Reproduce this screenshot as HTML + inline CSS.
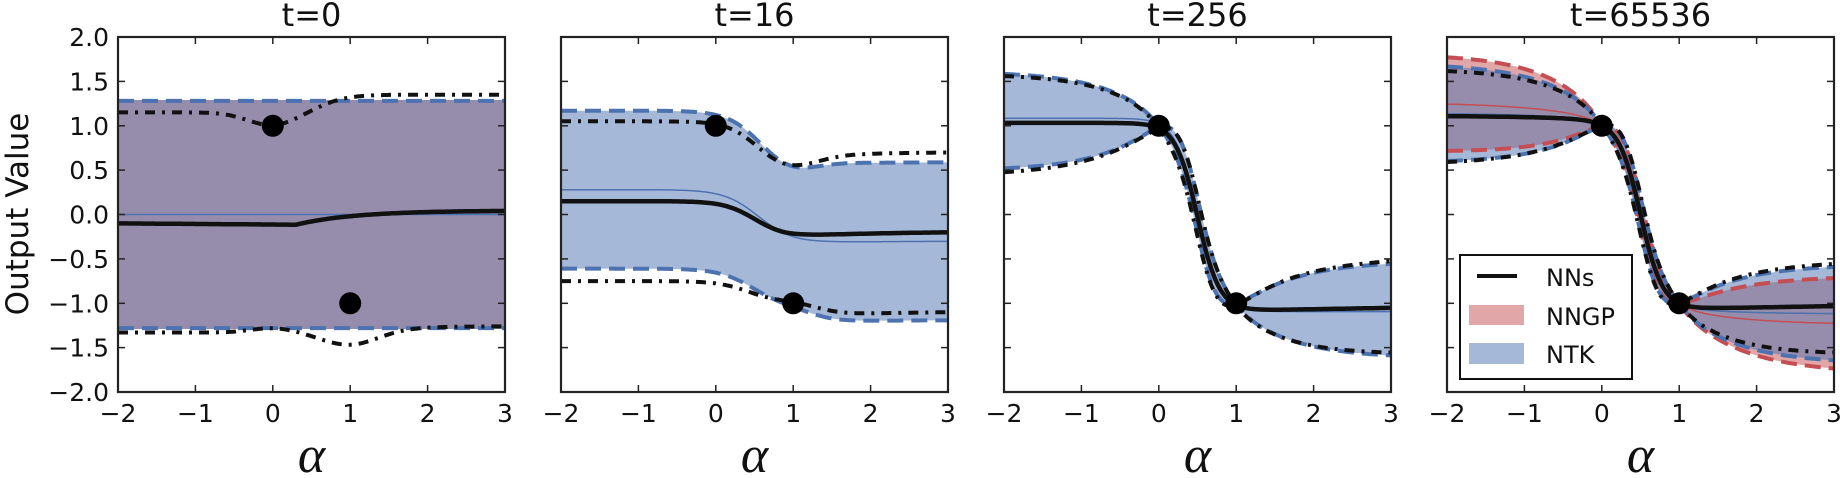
<!DOCTYPE html>
<html><head><meta charset="utf-8"><style>
html,body{margin:0;padding:0;background:#fff;width:1840px;height:478px;overflow:hidden}
svg text{font-family:"DejaVu Sans","Liberation Sans",sans-serif;fill:#111}
</style></head><body>
<svg id="s" width="1840" height="478" xmlns="http://www.w3.org/2000/svg"></svg>
<script>
const S=document.getElementById('s');
const LEFTS=[118,561,1004,1447], W=387, TOP=37, BOT=392;
const BLUE='#4c72b0', RED='#c44e52';
let out='';
function st(x,k,c){return 1/(1+Math.exp(-(x-c)*k));}
function step(x,k,c){c=c===undefined?0.5:c;const a=st(0,k,c),b=st(1,k,c);return (st(x,k,c)-a)/(b-a);}
function wpin(x,wl,wr,wm,kl,kr){
  if(x<0) return wl*(1-Math.exp(x*kl));
  if(x>1) return wr*(1-Math.exp(-(x-1)*kr));
  return wm*Math.sin(Math.PI*x);
}
const xs=[];for(let i=0;i<=250;i++)xs.push(-2+5*i/250);
function P(L,x,y){return [(L+(x+2)*77.4).toFixed(1),(214.5-y*88.75).toFixed(1)];}
function line(L,f,stroke,sw,dash){
  let d=xs.map((x,i)=>{const p=P(L,x,f(x));return (i?'L':'M')+p[0]+' '+p[1];}).join('');
  out+=`<path d="${d}" fill="none" stroke="${stroke}" stroke-width="${sw}" ${dash?`stroke-dasharray="${dash}"`:''} stroke-linejoin="round"/>`;
}
function band(L,fu,fl,fill,op){
  let d=xs.map((x,i)=>{const p=P(L,x,fu(x));return (i?'L':'M')+p[0]+' '+p[1];}).join('');
  d+=xs.slice().reverse().map(x=>{const p=P(L,x,fl(x));return 'L'+p[0]+' '+p[1];}).join('')+'Z';
  out+=`<path d="${d}" fill="${fill}" fill-opacity="${op}" stroke="none"/>`;
}
const DASH='16 8', DD='10 7 3 7';
function dot(L,x,y){const p=P(L,x,y);out+=`<circle cx="${p[0]}" cy="${p[1]}" r="11" fill="#000"/>`;}

LEFTS.forEach((L,i)=>{out+=`<clipPath id="c${i}"><rect x="${L}" y="${TOP}" width="${W}" height="${BOT-TOP}"/></clipPath>`;});

// Panel 1
{const L=LEFTS[0];out+=`<g clip-path="url(#c0)">`;
 band(L,x=>1.29,x=>-1.29,RED,0.5);band(L,x=>1.29,x=>-1.29,BLUE,0.5);
 line(L,x=>1.28,BLUE,4,DASH);line(L,x=>-1.28,BLUE,4,DASH);
 line(L,x=>0,BLUE,1.5);
 line(L,x=>{return 1.15-0.15*Math.exp(-Math.pow(x/0.45,2))+0.2*st(x,5,0.65);},'#111',4,DD);
 line(L,x=>{return -1.33+0.05*Math.exp(-Math.pow(x/0.4,2))-0.15*Math.exp(-Math.pow((x-1)/0.5,2))+0.07*st(x,3,1.5);},'#111',4,DD);
 line(L,x=>x<0.3?-0.1-0.015*(x+2)/2.3:-0.115+0.16*(1-Math.exp(-(x-0.3)*1.3)),'#111',4.5);
 out+='</g>';dot(L,0,1);dot(L,1,-1);}

// Panel 2
{const L=LEFTS[1];out+=`<g clip-path="url(#c1)">`;
 const m=x=>0.28-0.6*st(x,4.5,0.55)+0.02*(x>1?(1-Math.exp(-(x-1))):0);
 const w=x=>0.89-0.1*Math.exp(-Math.pow((x-0.95)/0.45,2));
 band(L,x=>m(x)+w(x),x=>m(x)-w(x),BLUE,0.5);
 line(L,x=>m(x)+w(x),BLUE,4,DASH);line(L,x=>m(x)-w(x),BLUE,4,DASH);
 line(L,m,BLUE,1.5);
 const n=x=>0.15-0.4*st(x,5,0.5)+0.06*(x>0.9?(1-Math.exp(-(x-0.9)*0.8)):0);
 const wn=x=>0.9-0.13*Math.exp(-Math.pow((x-0.95)/0.5,2));
 line(L,n,'#111',4.5);
 line(L,x=>n(x)+wn(x),'#111',4,DD);line(L,x=>n(x)-wn(x),'#111',4,DD);
 out+='</g>';dot(L,0,1);dot(L,1,-1);}

const K=7;
// Panel 3
{const L=LEFTS[2];out+=`<g clip-path="url(#c2)">`;
 const m=x=>0.99-2.0*step(x,K);
 const w=x=>wpin(x,0.56,0.55,0.2,1.5,1.4);
 band(L,x=>m(x)+w(x),x=>m(x)-w(x),BLUE,0.5);
 line(L,x=>m(x)+w(x),BLUE,4,DASH);line(L,x=>m(x)-w(x),BLUE,4,DASH);
 line(L,x=>1.02-2.05*step(x,K),BLUE,1.5);
 const n=x=>0.97-1.99*step(x,K)+(x>1?0.03*(x-1)/2:0);
 line(L,n,'#111',4.5);
 line(L,x=>n(x)+wpin(x,0.55,0.56,0.22,1.6,1.4),'#111',4,DD);
 line(L,x=>n(x)-wpin(x,0.6,0.53,0.22,1.3,1.5),'#111',4,DD);
 out+='</g>';dot(L,0,1);dot(L,1,-1);}

// Panel 4
{const L=LEFTS[3];out+=`<g clip-path="url(#c3)">`;
 const g=x=>1.0-2.0*step(x,K)+(x<0?0.2*(1-Math.exp(x*1.2)):0)-(x>1?0.18*(1-Math.exp(-(x-1)*1.2)):0);
 const gw=x=>wpin(x,0.55,0.55,0.17,1.6,1.3);
 const t=x=>1.0-2.0*step(x,K)+(x<0?0.08*(1-Math.exp(x*1.2)):0)-(x>1?0.06*(1-Math.exp(-(x-1)*1.2)):0);
 const tw=x=>wpin(x,0.56,0.56,0.2,1.5,1.4);
 band(L,x=>g(x)+gw(x),x=>g(x)-gw(x),RED,0.5);
 band(L,x=>t(x)+tw(x),x=>t(x)-tw(x),BLUE,0.5);
 line(L,x=>g(x)+gw(x),RED,4,DASH);line(L,x=>g(x)-gw(x),RED,4,DASH);
 line(L,x=>t(x)+tw(x),BLUE,4,DASH);line(L,x=>t(x)-tw(x),BLUE,4,DASH);
 line(L,g,RED,1.5);line(L,t,BLUE,1.5);
 const n=x=>1.0-2.0*step(x,K)+(x<0?0.05*(1-Math.exp(x*1.2)):0)+(x>1?0.03*(x-1)/2:0);
 line(L,n,'#111',4.5);
 line(L,x=>n(x)+wpin(x,0.53,0.5,0.22,1.6,1.5),'#111',4,DD);
 line(L,x=>n(x)-wpin(x,0.55,0.55,0.22,1.4,1.5),'#111',4,DD);
 out+='</g>';dot(L,0,1);dot(L,1,-1);}

const titles=['t=0','t=16','t=256','t=65536'];
LEFTS.forEach((L,i)=>{
  out+=`<rect x="${L}" y="${TOP}" width="${W}" height="${BOT-TOP}" fill="none" stroke="#222" stroke-width="2.2"/>`;
  for(let k=-2;k<=3;k++){const x=(L+(k+2)*77.4).toFixed(1);
    out+=`<line x1="${x}" y1="${TOP}" x2="${x}" y2="${TOP+7}" stroke="#222" stroke-width="1.5"/><line x1="${x}" y1="${BOT}" x2="${x}" y2="${BOT-7}" stroke="#222" stroke-width="1.5"/>`;
    out+=`<text x="${x}" y="422" font-size="25" text-anchor="middle">${k<0?'\u2212'+(-k):k}</text>`;}
  for(let k=-4;k<=4;k++){const y=(214.5-k*0.5*88.75).toFixed(1);
    out+=`<line x1="${L}" y1="${y}" x2="${L+7}" y2="${y}" stroke="#222" stroke-width="1.5"/><line x1="${L+W}" y1="${y}" x2="${L+W-7}" y2="${y}" stroke="#222" stroke-width="1.5"/>`;
    if(i==0){const v=(k*0.5).toFixed(1);out+=`<text x="109" y="${(+y+9).toFixed(1)}" font-size="25" text-anchor="end">${k<0?'\u2212'+v.slice(1):v}</text>`;}}
  out+=`<text x="${L+W/2}" y="26" font-size="32" text-anchor="middle">${titles[i]}</text>`;
  out+=`<text x="${L+W/2}" y="472" font-size="52" font-style="italic" text-anchor="middle" style="font-family:'Liberation Serif',serif">α</text>`;
});
out+=`<text transform="translate(28,214) rotate(-90)" font-size="31" text-anchor="middle">Output Value</text>`;
out+=`<rect x="1460" y="255" width="172" height="124" fill="#fff" stroke="#111" stroke-width="2"/>`;
out+=`<line x1="1477" y1="276" x2="1517" y2="276" stroke="#111" stroke-width="4"/>`;
out+=`<rect x="1469" y="305" width="55" height="20" fill="${RED}" fill-opacity="0.5"/>`;
out+=`<rect x="1469" y="343" width="55" height="21" fill="${BLUE}" fill-opacity="0.5"/>`;
out+=`<text x="1546" y="286" font-size="24">NNs</text><text x="1546" y="325" font-size="24">NNGP</text><text x="1546" y="363" font-size="24">NTK</text>`;
S.innerHTML=out;
</script>
</body></html>
